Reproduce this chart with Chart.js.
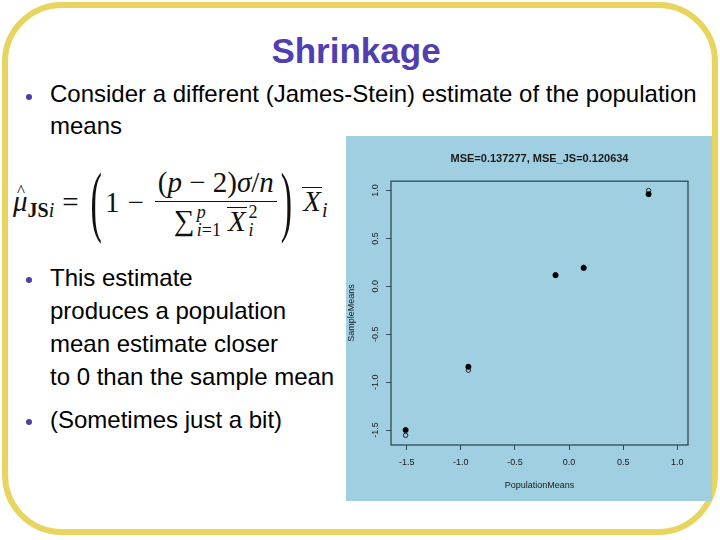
<!DOCTYPE html>
<html>
<head>
<meta charset="utf-8">
<script src="https://cdn.jsdelivr.net/npm/chart.js@4.4.1/dist/chart.umd.min.js"></script>
<style>
  html, body { margin: 0; padding: 0; background: #fff; }
  #slide { position: relative; width: 720px; height: 540px; overflow: hidden; font-family: "Liberation Sans", Arial, sans-serif; color: #000; }
  #frame { position: absolute; left: 2px; top: 2px; width: 716px; height: 533px; box-sizing: border-box; border: 6px solid #e8d55f; border-radius: 60px; }
  #title { position: absolute; left: 0; top: 31px; width: 712px; text-align: center; font-weight: bold; font-size: 35px; line-height: 40px; color: #4f3fb0; }
  .para { position: absolute; left: 50px; font-size: 24px; white-space: nowrap; }
  .dot { position: absolute; width: 6px; height: 6px; border-radius: 50%; background: #4a3fa6; }
  #formula { position: absolute; left: 13px; top: 160px; height: 84px; display: flex; align-items: center; font-family: "Liberation Serif", serif; font-size: 29px; color: #111; white-space: nowrap; }
  #formula sub { font-size: 20px; line-height: 1; vertical-align: -6px; }
  .hat { position: relative; display: inline-block; }
  .hat span { position: absolute; left: 4px; top: -4px; font-style: normal; font-size: 17px; }
  .bigp { display: inline-block; font-size: 34px; transform: scale(1, 2.3); }
  .frac { display: inline-flex; flex-direction: column; align-items: center; margin: 0 4px 0 5px; }
  .num { padding: 0 3px 2px; border-bottom: 1px solid #111; }
  .den { display: flex; align-items: center; padding-top: 1px; }
  .ss { display: inline-flex; flex-direction: column; font-size: 18px; line-height: 18px; margin-left: 2px; }
  .ov { border-top: 1px solid #111; line-height: 27px; padding: 0 1px; display: inline-block; }
  #chartBox { position: absolute; left: 346px; top: 136px; width: 366px; height: 365px; background: #9fcfe0; }
</style>
</head>
<body>
<div id="slide">
  <div id="frame"></div>
  <div id="title">Shrinkage</div>

  <div class="dot" style="left:26px; top:94px;"></div>
  <div class="para" style="top:78px; line-height:32px;">Consider a different (James-Stein) estimate of the population<br>means</div>

  <div id="formula">
    <span><i class="hat">μ<span>^</span></i><sub><b>JS</b><i>i</i></sub></span>
    <span style="margin:0 12px 0 8px;">=</span>
    <span class="bigp">(</span>
    <span style="margin-left:3px;">1</span>
    <span style="margin:0 6px 0 8px;">−</span>
    <span class="frac">
      <span class="num">(<i>p</i> − 2)<i>σ</i>/<i>n</i></span>
      <span class="den">∑<span class="ss"><i>p</i><span><i>i</i>=1</span></span>
        <span class="ov" style="margin-left:6px;"><i>X</i></span><span class="ss"><span>2</span><i>i</i></span></span>
    </span>
    <span class="bigp">)</span>
    <span style="margin-left:10px;"><span class="ov"><i>X</i></span><sub><i>i</i></sub></span>
  </div>

  <div class="dot" style="left:26px; top:277px;"></div>
  <div class="para" style="top:261px; line-height:33px;">This estimate<br>produces a population<br>mean estimate closer<br>to 0 than the sample mean</div>

  <div class="dot" style="left:26px; top:419px;"></div>
  <div class="para" style="top:403px; line-height:33px;">(Sometimes just a bit)</div>

  <div id="chartBox"><canvas id="canvas" width="366" height="365"></canvas></div>
</div>

<script>
// values
const populationMeans = [-1.51, -0.93, -0.125, 0.135, 0.735];
const sampleMeans = [-1.555, -0.875, 0.12, 0.198, 1.0];
const jsMeans = [-1.50, -0.84, 0.116, 0.192, 0.962];
const xTicks = [-1.5, -1.0, -0.5, 0.0, 0.5, 1.0];
const yTicks = [-1.5, -1.0, -0.5, 0.0, 0.5, 1.0];
const xLimits = [-1.645, 1.099];
const yLimits = [-1.656, 1.097];
const plotTitle = 'MSE=0.137277, MSE_JS=0.120634';

const ink = '#1a1a1a';
const axisColor = '#2d4a56';
const tickFont = { family: 'Liberation Sans', size: 9 };

const boxPlugin = {
    id: 'box',
    afterDraw(chart) {
        const { ctx, chartArea: a } = chart;
        ctx.save();
        ctx.strokeStyle = axisColor;
        ctx.lineWidth = 1.3;
        ctx.strokeRect(a.left, a.top, a.right - a.left, a.bottom - a.top);
        ctx.restore();
    }
};

const toPoints = ys => populationMeans.map((x, i) => ({ x: x, y: ys[i] }));

const ctx = document.getElementById('canvas').getContext('2d');
const chart = new Chart(ctx, {
    type: 'scatter',
    data: {
        datasets: [
            {
                label: 'James-Stein',
                data: toPoints(jsMeans),
                pointRadius: 2.7,
                backgroundColor: '#000',
                borderColor: '#000',
                borderWidth: 0.5
            },
            {
                label: 'SampleMeans',
                data: toPoints(sampleMeans),
                pointRadius: 2.2,
                backgroundColor: 'rgba(0,0,0,0)',
                borderColor: '#111',
                borderWidth: 0.9
            }
        ]
    },
    options: {
        responsive: false,
        animation: false,
        layout: { padding: { right: 24 } },
        plugins: {
            legend: { display: false },
            tooltip: { enabled: false },
            title: {
                display: true,
                text: plotTitle,
                fullSize: false,
                color: ink,
                font: { family: 'Liberation Sans', size: 11, weight: 'bold' },
                padding: { top: 16, bottom: 16 }
            }
        },
        scales: {
            x: {
                type: 'linear',
                min: xLimits[0],
                max: xLimits[1],
                afterBuildTicks: s => { s.ticks = xTicks.map(v => ({ value: v })); },
                afterFit: s => { s.height = 56; },
                grid: { drawOnChartArea: false, tickLength: 5, tickColor: axisColor, tickWidth: 1 },
                border: { display: false },
                ticks: { color: ink, font: tickFont, padding: 7, maxRotation: 0, callback: v => v.toFixed(1) },
                title: { display: true, text: 'PopulationMeans', color: ink, font: tickFont, padding: { top: 4, bottom: 10 } }
            },
            y: {
                type: 'linear',
                min: yLimits[0],
                max: yLimits[1],
                afterBuildTicks: s => { s.ticks = yTicks.map(v => ({ value: v })); },
                afterFit: s => { s.width = 45; },
                grid: { drawOnChartArea: false, tickLength: 5, tickColor: axisColor, tickWidth: 1 },
                border: { display: false },
                ticks: { color: ink, font: tickFont, padding: 3, minRotation: 90, maxRotation: 90, crossAlign: 'center', callback: v => v.toFixed(1) },
                title: { display: true, text: 'SampleMeans', color: ink, font: tickFont, padding: 0 }
            }
        }
    },
    plugins: [boxPlugin]
});
</script>
</body>
</html>
